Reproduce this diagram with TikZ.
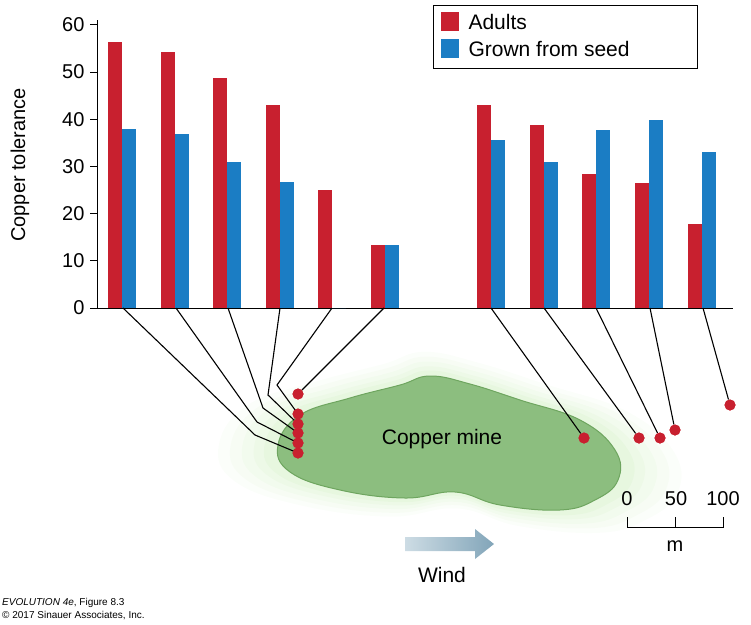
\documentclass[tikz,border=0pt]{standalone}
\usepackage{fontspec}
\setmainfont{Liberation Sans}
\begin{document}
\begin{tikzpicture}[x=1pt,y=-1pt,
  redbar/.style={fill={rgb,255:red,200;green,32;blue,47},draw=none},
  bluebar/.style={fill={rgb,255:red,27;green,125;blue,196},draw=none},
  dot/.style={circle,fill={rgb,255:red,200;green,32;blue,47},inner sep=0pt,minimum width=11pt,minimum height=10pt},
  lk/.style={black,line width=1.1pt},
  tl/.style={anchor=east,font=\fontsize{20}{20}\selectfont}]
\useasboundingbox (0,0) rectangle (751,624);
\def\blob{plot[smooth cycle,tension=0.7] coordinates {(278,445) (300,415) (350,398) (400,385) (430,376) (470,384) (520,400) (580,420) (615,450) (618,480) (595,500) (560,510) (500,505) (455,492) (405,498) (340,490) (290,472)}}
% glow
\foreach \s/\o in {1.35/0.05,1.28/0.06,1.21/0.07,1.14/0.08,1.08/0.10}{
  \fill[green!50!olive!40,opacity=\o,shift={(447,445)},scale=\s,shift={(-447,-445)}] \blob;}
\filldraw[fill={rgb,255:red,140;green,190;blue,127},draw={rgb,255:red,110;green,165;blue,95},line width=1pt] \blob;
\node[font=\fontsize{21}{21}\selectfont] (mine) at (442,439) {Copper mine};
% axes
\draw[line width=1pt] (97,20) -- (97,308) -- (733,308);
\foreach \v in {0,10,20,30,40,50,60}{
  \draw[line width=1pt] (90,308-4.72*\v) -- (97,308-4.72*\v);
  \node[tl] at (88,308-4.72*\v) {\v};}
\node[rotate=90,font=\fontsize{20}{20}\selectfont] (ylab) at (20,165) {Copper tolerance};
% bars
\foreach \x/\r/\b in {108/56.3/38,161/54.2/36.8,213/48.7/31,266/43/26.7,318/25/0,371/13.3/13.3,477/43/35.6,530/38.8/31,582/28.3/37.8,635/26.5/39.8,688/17.8/33}{
  \fill[redbar] (\x,308) rectangle (\x+14,308-4.72*\r);
  \fill[bluebar] (\x+14,308) rectangle (\x+28,308-4.72*\b);}
% dots
\node[dot] (d6) at (298,394) {};
\node[dot] (d5) at (298,414) {};
\node[dot] (d4) at (298,424) {};
\node[dot] (d3) at (298,433) {};
\node[dot] (d2) at (298,443) {};
\node[dot] (d1) at (298,453) {};
\node[dot] (d7) at (584,438) {};
\node[dot] (d8) at (639,438) {};
\node[dot] (d9) at (660,438) {};
\node[dot] (d10) at (675,430) {};
\node[dot] (d11) at (730,405) {};
\coordinate (b1) at (123,308); \coordinate (b2) at (176,308); \coordinate (b3) at (228,308);
\coordinate (b4) at (280,308); \coordinate (b5) at (332,308); \coordinate (b6) at (384,308);
\coordinate (b7) at (491,308); \coordinate (b8) at (544,308); \coordinate (b9) at (596,308);
\coordinate (b10) at (650,308); \coordinate (b11) at (703,308);
\draw[lk] (b1) -- (255,435) -- (d1.center);
\draw[lk] (b2) -- (257,422) -- (d2.center);
\draw[lk] (b3) -- (263,408) -- (d3.center);
\draw[lk] (b4) -- (268,395) -- (d4.center);
\draw[lk] (b5) -- (277,385) -- (d5.center);
\foreach \i in {6,7,8,9,10,11}{\draw[lk] (b\i) -- (d\i);}
\foreach \i in {1,...,11}{\node[dot] at (d\i) {};}
% legend
\draw[line width=0.8pt] (433,5) rectangle (697,68);
\fill[redbar] (441,12) rectangle (459,31);
\fill[bluebar] (441,39) rectangle (459,58);
\node[anchor=west,font=\fontsize{21}{21}\selectfont] (la) at (465,22) {Adults};
\node[anchor=west,font=\fontsize{21}{21}\selectfont] (lb) at (465,49) {Grown from seed};
% wind
\shade[left color={rgb,255:red,205;green,220;blue,228},right color={rgb,255:red,130;green,165;blue,185}]
  (405,537) -- (475,537) -- (475,529) -- (494,544) -- (475,559) -- (475,551) -- (405,551) -- cycle;
\node[font=\fontsize{21}{21}\selectfont] (wind) at (442,575) {Wind};
% scale
\draw[line width=1pt] (627,517) -- (627,527) -- (723,527) -- (723,517);
\draw[line width=1pt] (675,517) -- (675,527);
\foreach \x/\t in {627/0,676/50,723/100}{\node[font=\fontsize{20}{20}\selectfont] at (\x,499) {\t};}
\node[font=\fontsize{20}{20}\selectfont] (m) at (675,546) {m};
% footer
\node[anchor=west,font=\fontsize{10}{10}\selectfont\itshape,inner sep=0pt] (f1) at (2,603) {EVOLUTION 4e\upshape, Figure 8.3};
\node[anchor=west,font=\fontsize{10}{10}\selectfont,inner sep=0pt] (f2) at (2,616) {© 2017 Sinauer Associates, Inc.};
\end{tikzpicture}
\end{document}
